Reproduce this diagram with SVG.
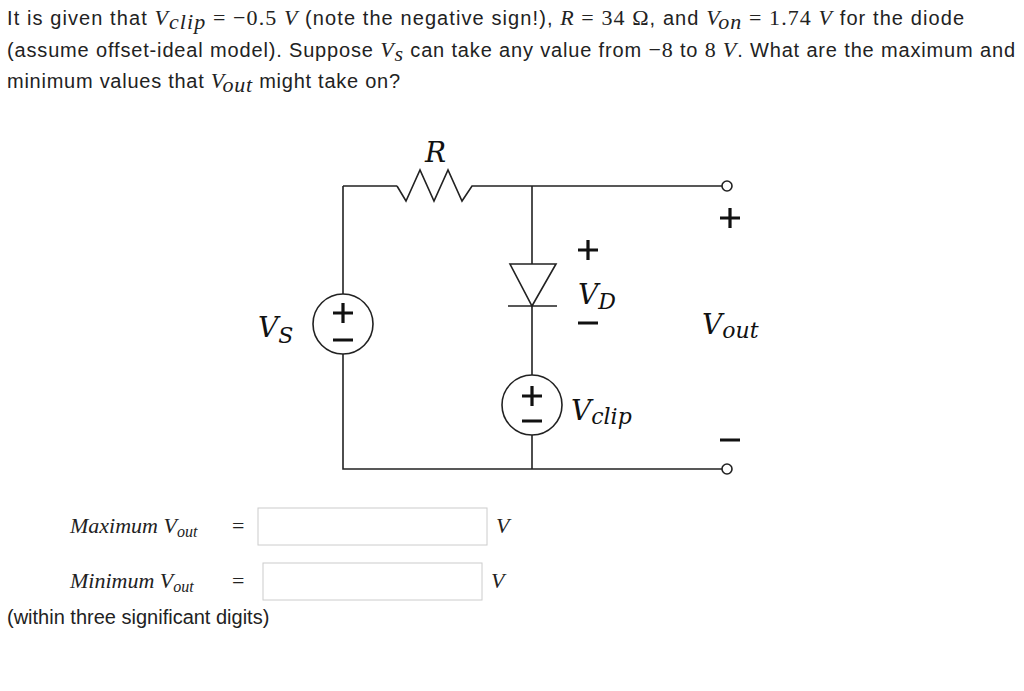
<svg xmlns="http://www.w3.org/2000/svg" width="1024" height="691" viewBox="0 0 1024 691">
<style>
.t{font-family:"Liberation Sans",Arial,sans-serif;font-size:20px;fill:#222}
.m{font-family:"Liberation Serif","Times New Roman",serif;font-size:22px;fill:#222}
.mi{font-family:"Liberation Serif","Times New Roman",serif;font-style:italic;font-size:22px;fill:#222}
.c{font-family:"DejaVu Serif",serif;font-style:italic;fill:#111}
.w{fill:none;stroke:#222;stroke-width:1.6}
.pm{stroke:#111;stroke-width:3.2;fill:none}
.box{fill:#fff;stroke:#ccc;stroke-width:1}
</style>
<rect width="1024" height="691" fill="#fff"/>
<text class="t" x="7" y="25" textLength="957" lengthAdjust="spacing">It is given that <tspan class="mi">V</tspan><tspan class="mi" font-size="16" dy="4">clip</tspan><tspan class="m" dy="-4"> = −0.5 </tspan><tspan class="mi">V</tspan> (note the negative sign!), <tspan class="mi">R</tspan><tspan class="m"> = 34 Ω</tspan>, and <tspan class="mi">V</tspan><tspan class="mi" font-size="16" dy="4">on</tspan><tspan class="m" dy="-4"> = 1.74 </tspan><tspan class="mi">V</tspan> for the diode</text>
<text class="t" x="7" y="57" textLength="1008" lengthAdjust="spacing">(assume offset-ideal model). Suppose <tspan class="mi">V</tspan><tspan class="mi" font-size="16" dy="4">s</tspan><tspan dy="-4"> can take any value from </tspan><tspan class="m">−8</tspan> to <tspan class="m">8 </tspan><tspan class="mi">V</tspan>. What are the maximum and</text>
<text class="t" x="7" y="88" textLength="393" lengthAdjust="spacing">minimum values that <tspan class="mi">V</tspan><tspan class="mi" font-size="16" dy="4">out</tspan><tspan dy="-4"> might take on?</tspan></text>

<g id="connectors">
<path class="w" d="M478,186 H722 M343,186 H397 M343,186 V294 M343,354 V469 H722 M532,186 V264 M532,306 V375 M532,435 V469"/>
</g>
<g id="R">
<path class="w" d="M397,186 L406,201 L420,170 L434,201 L448,170 L462,201 L472,186 L478,186"/>
<text class="c" x="425" y="162" font-size="28">R</text>
</g>
<g id="Vs">
<circle class="w" cx="343" cy="324" r="30"/>
<path class="pm" d="M333,313 H353 M343,303 V323 M333,340 H353"/>
<text class="c" x="258" y="337" font-size="28">V<tspan font-size="22" dy="6">S</tspan></text>
</g>
<g id="D">
<path class="w" d="M510,264 H556 L532,306 Z M508,306 H557"/>
<path class="pm" d="M578,250 H598 M588,240 V260 M578,323 H598"/>
<text class="c" x="578" y="304" font-size="28">V<tspan font-size="22" dy="5">D</tspan></text>
</g>
<g id="Vclip">
<circle class="w" cx="532" cy="405" r="30"/>
<path class="pm" d="M522,396 H542 M532,386 V406 M522,421 H542"/>
<text class="c" x="571" y="420" font-size="28">V<tspan font-size="22" dy="4">clip</tspan></text>
</g>
<g id="Vout">
<circle class="w" cx="727" cy="186" r="5" fill="#fff"/>
<circle class="w" cx="727" cy="469" r="5" fill="#fff"/>
<path class="pm" d="M720,218 H740 M730,208 V228 M720,440 H740"/>
<text class="c" x="702" y="334" font-size="28">V<tspan font-size="22" dy="4">out</tspan></text>
</g>
<g id="answers">
<text class="mi" x="70" y="533" font-size="23">Maximum V<tspan font-size="16" dy="4">out</tspan></text>
<text class="m" x="232" y="533">=</text>
<rect class="box" x="258" y="508" width="229" height="37"/>
<text class="mi" x="496" y="533">V</text>
<text class="mi" x="70" y="588" font-size="23">Minimum V<tspan font-size="16" dy="4">out</tspan></text>
<text class="m" x="232" y="588">=</text>
<rect class="box" x="263" y="563" width="219" height="37"/>
<text class="mi" x="491" y="588">V</text>
<text class="t" x="7" y="624" font-size="19">(within three significant digits)</text>
</g>
</svg>
